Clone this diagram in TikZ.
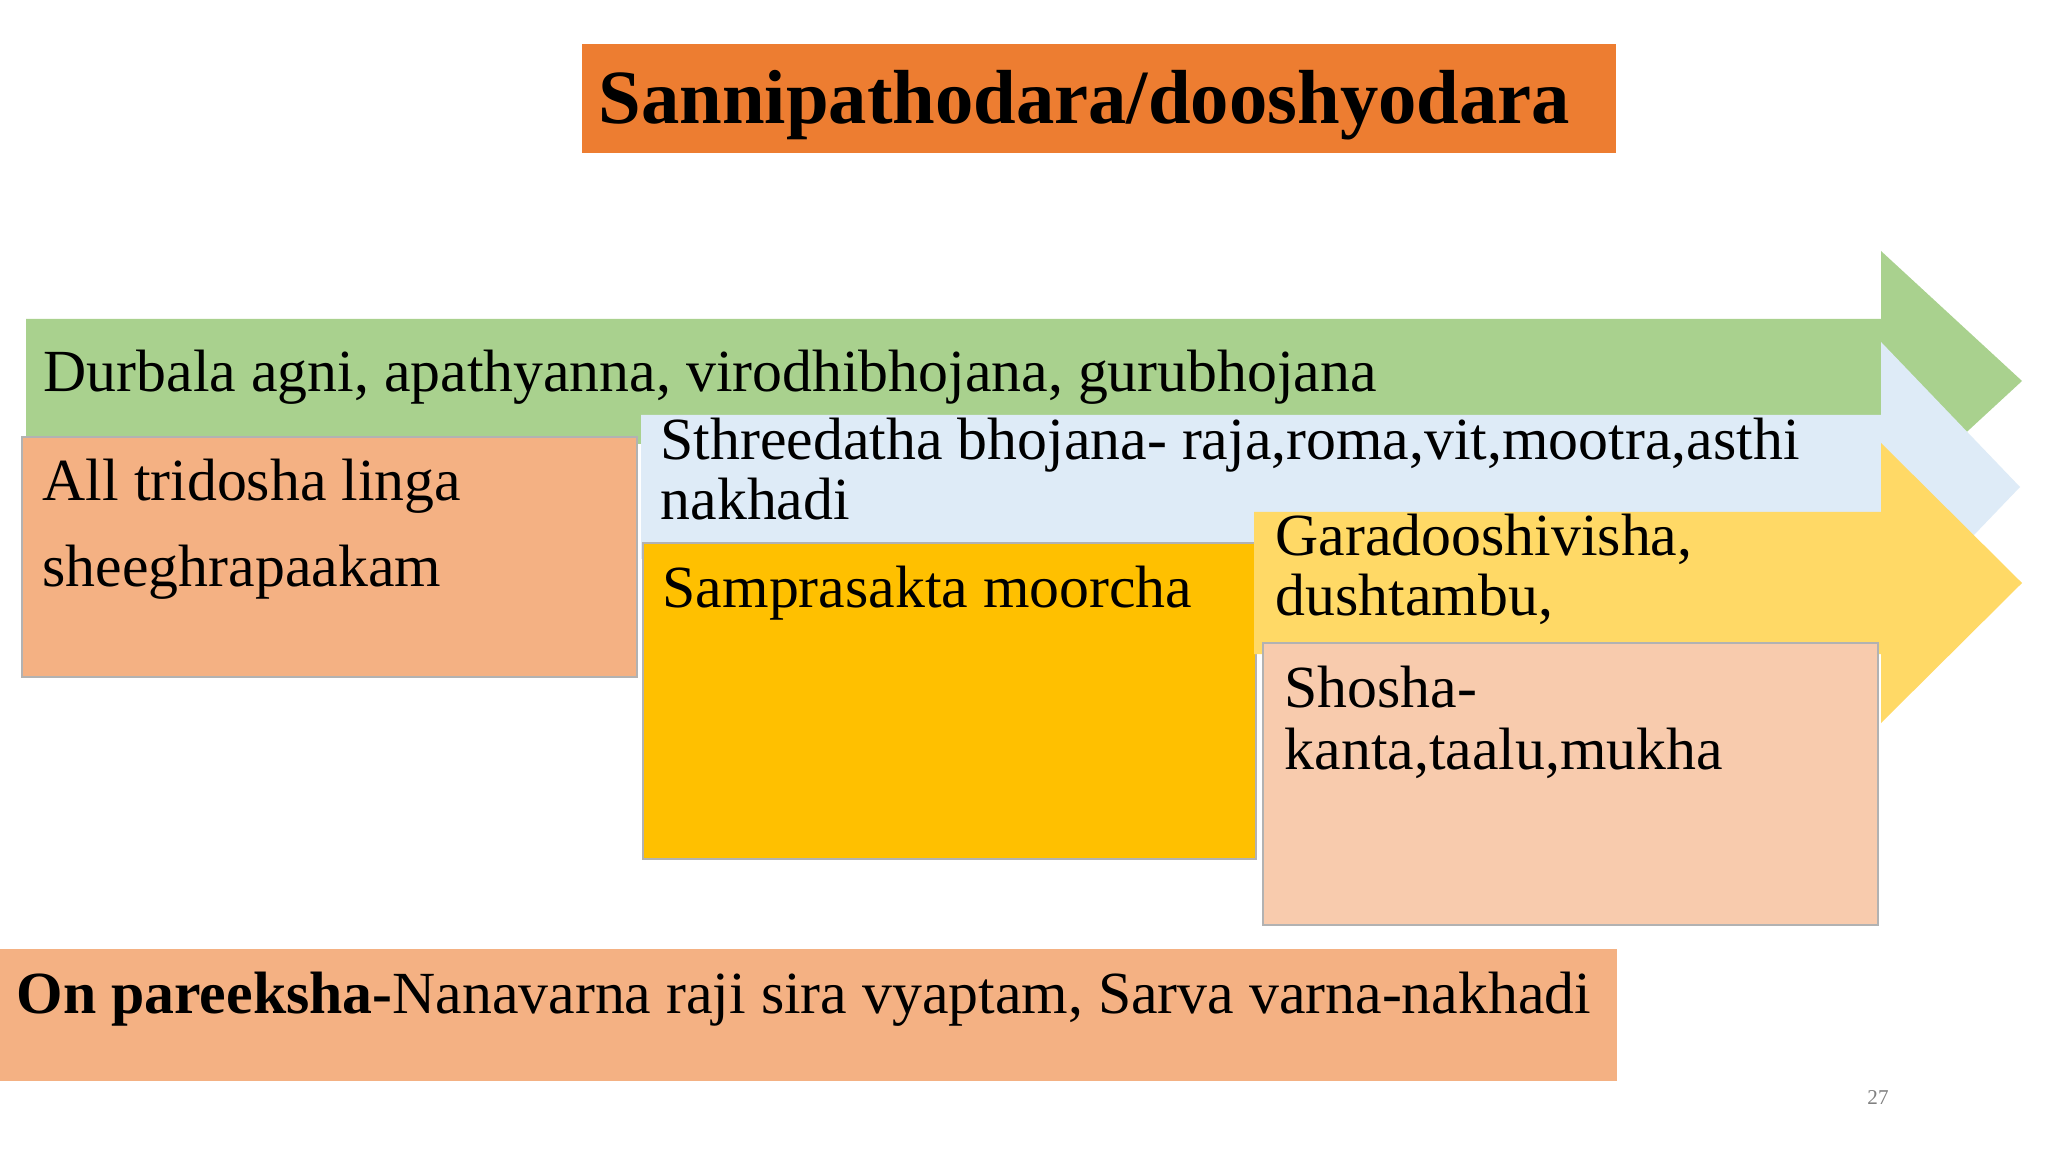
\documentclass[tikz,border=0pt]{standalone}
\usepackage{fontspec}
\setmainfont{Liberation Serif}
\definecolor{titleorange}{HTML}{ED7D31}
\definecolor{arrgreen}{HTML}{A9D18E}
\definecolor{arrblue}{HTML}{DEEBF7}
\definecolor{arryellow}{HTML}{FFD966}
\definecolor{boxorange}{HTML}{F4B183}
\definecolor{boxgold}{HTML}{FFC000}
\definecolor{boxpeach}{HTML}{F8CBAD}
\begin{document}
\begin{tikzpicture}[x=0.01cm,y=-0.01cm,
  txt/.style={anchor=base west,inner sep=0pt,font=\fontsize{17}{18}\selectfont},
  boxline/.style={draw=gray!60,line width=0.7pt}]
\useasboundingbox (0,0) rectangle (2048,1152);
\fill[white] (0,0) rectangle (2048,1152);

% title
\fill[titleorange] (582,44) rectangle (1616,153);
\node[anchor=base west,inner sep=0pt,font=\bfseries\fontsize{21.8}{24}\selectfont] (title) at (598,124) {Sannipathodara/dooshyodara};

% green arrow
\fill[arrgreen] (26,319)--(1881,319)--(1881,251)--(2022,381)--(1881,511)--(1881,444)--(26,444)--cycle;
\node[txt] (durbala) at (43,392) {Durbala agni, apathyanna, virodhibhojana, gurubhojana};

\filldraw[boxline,fill=boxorange] (22,437) rectangle (637,677);
\node[txt] (tridosha) at (42,501) {All tridosha linga};
\node[txt] (paakam) at (42,587) {sheeghrapaakam};

% blue arrow
\fill[arrblue] (641,415)--(1881,415)--(1881,342)--(2020,487)--(1881,632)--(1881,559)--(641,559)--cycle;
\node[txt] (sthree) at (660,460) {Sthreedatha bhojana- raja,roma,vit,mootra,asthi};
\node[txt] (nakhadi) at (660,520) {nakhadi};

\filldraw[boxline,fill=boxgold] (643,543) rectangle (1256,859);
\node[txt] (moorcha) at (662,607) {Samprasakta moorcha};

% yellow arrow
\fill[arryellow] (1254,512)--(1881,512)--(1881,443)--(2022,583)--(1881,723)--(1881,654)--(1254,654)--cycle;
\node[txt] (gara) at (1275,555) {Garadooshivisha,};
\node[txt] (dusht) at (1275,616) {dushtambu,};

\filldraw[boxline,fill=boxpeach] (1263,643) rectangle (1878,925);
\node[txt] (shosha) at (1284,707) {Shosha-};
\node[txt] (kanta) at (1284,769) {kanta,taalu,mukha};

% bottom band
\fill[boxorange] (0,949) rectangle (1617,1081);
\node[txt] (pareeksha) at (16,1013) {\textbf{On pareeksha-}Nanavarna raji sira vyaptam, Sarva varna-nakhadi};

\node[anchor=base,inner sep=0pt,font=\fontsize{6}{7}\selectfont,text=gray] (pageno) at (1878,1104) {27};
\end{tikzpicture}
\end{document}
